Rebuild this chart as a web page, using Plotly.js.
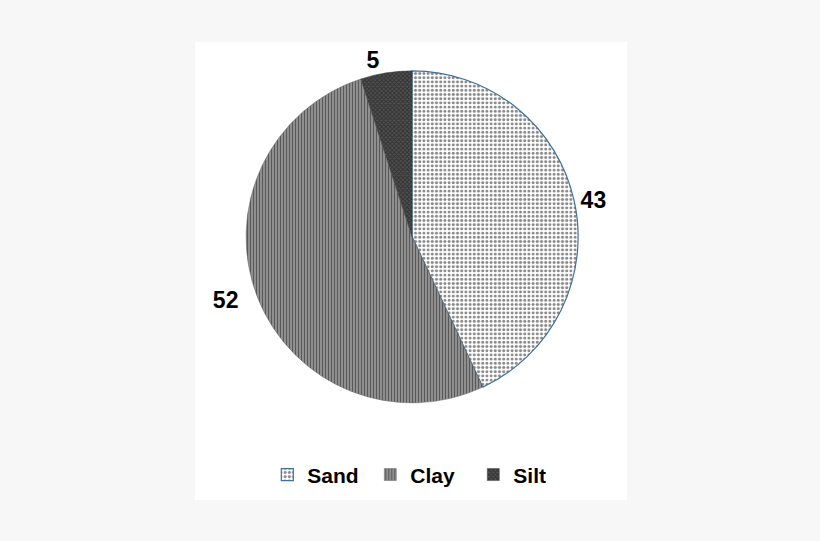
<!DOCTYPE html>
<html>
<head>
<meta charset="utf-8">
<script src="https://cdn.plot.ly/plotly-3.0.1.min.js"></script>
<style>
html,body{margin:0;padding:0;background:#f7f7f7;width:820px;height:541px;overflow:hidden;}
#chart{position:absolute;left:195px;top:42px;width:432px;height:458px;background:#fff;}
</style>
</head>
<body>
<div id="chart"></div>
<script>
const categories = ["Sand", "Clay", "Silt"];
const values = [43, 52, 5];
const shapes = [".", "|", "x"];
const lineColors = ["#41719c", "#666666", "#444444"];

const trace = {
  type: "pie",
  labels: categories,
  values: values,
  sort: false,
  direction: "clockwise",
  rotation: 0,
  textinfo: "value",
  textposition: "outside",
  outsidetextfont: {family: "Liberation Sans, Arial, sans-serif", size: 23, color: "#000", weight: 700},
  texttemplate: ["%{value}", "%{value}  ", "%{value}"],
  hoverinfo: "none",
  domain: {x: [0.118, 0.887], y: [0.212, 0.937]},
  marker: {
    colors: ["#ffffff", "#ffffff", "#ffffff"],
    line: {color: lineColors, width: [1.2, 0.5, 0.5]},
    pattern: {
      shape: shapes,
      fgcolor: ["#111111", "#111111", "#111111"],
      bgcolor: ["#ffffff", "#a0a0a0", "#505050"],
      size: [4.2, 3, 3],
      solidity: [0.42, 0.5, 0.5],
      fillmode: "overlay"
    }
  }
};

const layout = {
  width: 432,
  height: 458,
  margin: {l: 0, r: 0, t: 0, b: 0},
  paper_bgcolor: "#ffffff",
  showlegend: true,
  legend: {
    orientation: "h",
    x: 0.525, xanchor: "center",
    y: 0.01, yanchor: "bottom",
    font: {family: "Liberation Sans, Arial, sans-serif", size: 21, color: "#000", weight: 700},
    itemwidth: 30,
    entrywidth: 58,
    entrywidthmode: "pixels",
    traceorder: "normal"
  },
  font: {family: "Liberation Sans, Arial, sans-serif"}
};

Plotly.newPlot("chart", [trace], layout, {staticPlot: true, displayModeBar: false});
</script>
</body>
</html>
